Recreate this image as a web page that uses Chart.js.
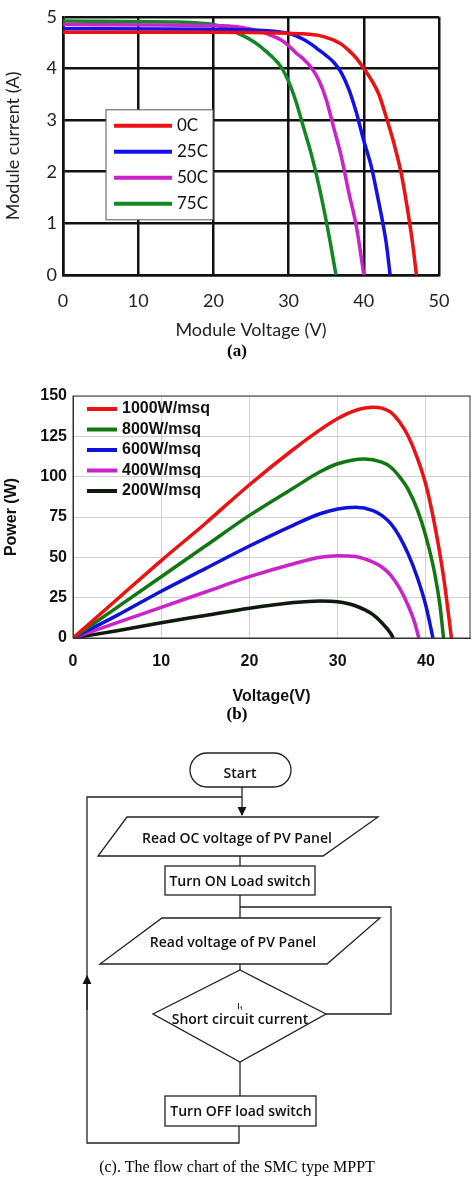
<!DOCTYPE html>
<html>
<head>
<meta charset="utf-8">
<script src="https://cdn.jsdelivr.net/npm/chart.js@4.4.1/dist/chart.umd.min.js"></script>
<style>
  html, body { margin: 0; padding: 0; background: #fff; }
  body { width: 474px; height: 1192px; position: relative; overflow: hidden; }
  .box { position: absolute; left: 0; width: 474px; }
  .cap { position: absolute; left: 0; width: 474px; text-align: center; font-family: "Liberation Serif", serif; font-size: 17px; color: #000; }
  svg text { font-family: "Open Sans", sans-serif; font-weight: 600; font-size: 14px; fill: #111; }
</style>
</head>
<body>
<div class="box" style="top:0;height:345px"><canvas id="ivChart"></canvas></div>
<div class="cap" style="top:341px;font-weight:bold">(a)</div>
<div class="box" style="top:370px;height:340px"><canvas id="pvChart"></canvas></div>
<div class="cap" style="top:704px;font-weight:bold">(b)</div>

<svg width="474" height="1192" style="position:absolute;left:0;top:0" viewBox="0 0 474 1192">
  <defs>
    <marker id="arr" viewBox="0 0 10 10" refX="9" refY="5" markerWidth="7" markerHeight="7" orient="auto">
      <path d="M0,0 L10,5 L0,10 z" fill="#111"/>
    </marker>
  </defs>
  <g stroke="#222" stroke-width="1.3" fill="none">
    <rect x="190" y="753" width="101" height="34" rx="17"/>
    <line x1="242" y1="787" x2="242" y2="815" marker-end="url(#arr)"/>
    <polyline points="239,1126 239,1143 87,1143 87,797 242,797"/>
    <line x1="87" y1="1010" x2="87" y2="976" marker-end="url(#arr)"/>
    <polygon points="127,817 378,817 323,856 98,856"/>
    <line x1="240" y1="856" x2="240" y2="866"/>
    <rect x="165" y="866" width="150" height="29"/>
    <polyline points="240,895 240,918"/>
    <polyline points="240,907 391,907 391,1014 326,1014"/>
    <polygon points="162,918 380,918 327,964 100,964"/>
    <line x1="240" y1="964" x2="240" y2="970"/>
    <polygon points="240,970 326,1014 240,1062 153,1014"/>
    <line x1="240" y1="1062" x2="240" y2="1096"/>
    <rect x="165" y="1096" width="151" height="30"/>
  </g>
  <text x="240" y="778" text-anchor="middle" font-size="15">Start</text>
  <text x="237" y="843" text-anchor="middle">Read OC voltage of PV Panel</text>
  <text x="240" y="886" text-anchor="middle">Turn ON Load switch</text>
  <text x="233" y="947" text-anchor="middle">Read voltage of PV Panel</text>
  <text x="240" y="1009" text-anchor="middle" style="font-size:8px">I₁</text>
  <text x="240" y="1024" text-anchor="middle">Short circuit current</text>
  <text x="241" y="1116" text-anchor="middle">Turn OFF load switch</text>
</svg>
<div class="cap" style="top:1158px;font-size:16px">(c). The flow chart of the SMC type MPPT</div>

<script>
// (a) I-V curves at different temperatures
const IV_LABELS = ['0C', '25C', '50C', '75C'];
const IV_COLORS = ['#ee1111', '#1111ee', '#cc22cc', '#118822'];
const iv0C  = [[0,4.7],[10,4.7],[20,4.7],[30,4.68],[32,4.67],[34,4.64],[35,4.6],[36,4.55],[37,4.47],[38,4.35],[39,4.2],[40,4.0],[41,3.78],[42,3.5],[43,3.05],[44,2.55],[45,1.95],[46,1.1],[46.5,0.6],[47,0]];
const iv25C = [[0,4.77],[20,4.76],[26,4.74],[28,4.72],[30,4.68],[31,4.63],[32,4.56],[33,4.47],[34,4.36],[35,4.25],[36,4.12],[37,3.92],[38,3.6],[39,3.15],[40,2.6],[41,2.1],[42,1.4],[42.6,0.95],[43,0.6],[43.5,0]];
const iv50C = [[0,4.85],[20,4.83],[22,4.82],[24,4.79],[25,4.76],[26,4.72],[27,4.68],[28,4.62],[29,4.55],[30,4.44],[31,4.3],[32,4.18],[33,4.02],[34,3.78],[35,3.4],[36,2.85],[37,2.3],[38,1.6],[39,0.95],[39.5,0.5],[40,0]];
const iv75C = [[0,4.92],[15,4.9],[17,4.89],[20,4.85],[21,4.81],[22,4.76],[23,4.7],[24,4.63],[25,4.55],[26,4.45],[27,4.33],[28,4.2],[29,4.03],[30,3.75],[31,3.35],[32,2.85],[33,2.35],[34,1.75],[35,1.05],[35.7,0.5],[36.3,0]];
const IV_TICKS_X = [0, 10, 20, 30, 40, 50];
const IV_TICKS_Y = [0, 1, 2, 3, 4, 5];

// (b) P-V curves at different irradiance
const PV_LABELS = ['1000W/msq', '800W/msq', '600W/msq', '400W/msq', '200W/msq'];
const PV_COLORS = ['#ee1111', '#117711', '#1111dd', '#cc22cc', '#0d1a0d'];
const pv1000 = [[0,0],[5,24],[10,48],[15,71],[20,95],[25,117],[28,129],[30,136],[32,141],[34,143],[35,142.5],[36,140],[37,134],[38,125],[39,112],[40,95],[41,70],[42,38],[42.9,0]];
const pv800  = [[0,0],[5,19],[10,38],[15,57],[20,76],[25,93],[28,103],[30,108],[33,111],[35,109],[36,106],[37,100],[38,92],[39,80],[40,63],[41,40],[41.6,20],[42,0]];
const pv600  = [[0,0],[5,14],[10,29],[15,43],[20,57],[25,70],[28,77],[30,80],[32,81],[34,79],[35,76],[36,71],[37,63],[38,52],[39,38],[40,20],[40.8,0]];
const pv400  = [[0,0],[5,9.5],[10,19],[15,28.5],[20,38],[25,46],[28,50],[30,51],[32,50.5],[34,47],[35,44],[36,39],[37,31],[38,20],[38.7,10],[39.2,0]];
const pv200  = [[0,0],[5,4.5],[10,9.5],[15,14],[20,18.5],[25,22],[28,23],[30,22.5],[32,20],[34,14.5],[35,9.5],[36,3],[36.3,0]];

const toXY = arr => arr.map(p => ({ x: p[0], y: p[1] }));

// legend drawn inside the plot area
const insideLegend = (cfg) => ({
  id: 'insideLegend',
  afterDraw(chart) {
    const ctx = chart.ctx;
    const a = chart.chartArea;
    const x0 = a.left + cfg.dx, y0 = a.top + cfg.dy;
    ctx.save();
    if (cfg.box) {
      ctx.fillStyle = '#fff';
      ctx.strokeStyle = '#555';
      ctx.lineWidth = 1;
      ctx.fillRect(x0, y0, cfg.box.w, cfg.box.h);
      ctx.strokeRect(x0, y0, cfg.box.w, cfg.box.h);
    }
    ctx.font = cfg.font;
    ctx.textBaseline = 'middle';
    chart.data.datasets.forEach((ds, i) => {
      const y = y0 + cfg.first + i * cfg.step;
      ctx.strokeStyle = ds.borderColor;
      ctx.lineWidth = 4;
      ctx.beginPath();
      ctx.moveTo(x0 + cfg.lx, y);
      ctx.lineTo(x0 + cfg.lx + cfg.len, y);
      ctx.stroke();
      ctx.fillStyle = '#111';
      ctx.fillText(ds.label, x0 + cfg.lx + cfg.len + 5, y);
    });
    ctx.restore();
  }
});

const makeDatasets = (labels, colors, series) => labels.map((l, i) => ({
  label: l,
  data: toXY(series[i]),
  borderColor: colors[i],
  borderWidth: 3.5,
  pointRadius: 0,
  cubicInterpolationMode: 'monotone',
  fill: false
}));

const main = () => {
  const ivFont = { family: 'Lato', size: 18 };
  new Chart(document.getElementById('ivChart'), {
    type: 'line',
    data: { datasets: makeDatasets(IV_LABELS, IV_COLORS, [iv0C, iv25C, iv50C, iv75C]) },
    options: {
      responsive: true,
      maintainAspectRatio: false,
      animation: false,
      layout: { padding: { top: 12, right: 35 } },
      plugins: { legend: { display: false }, tooltip: { enabled: false } },
      scales: {
        x: {
          type: 'linear', min: 0, max: 50,
          afterBuildTicks: s => { s.ticks = IV_TICKS_X.map(v => ({ value: v })); },
          afterFit: s => { s.height = 70; },
          grid: { color: '#111', lineWidth: 2.5, drawTicks: false },
          border: { color: '#111', width: 2.5 },
          ticks: { color: '#222', font: ivFont, padding: 15, maxRotation: 0 },
          title: { display: true, text: 'Module Voltage (V)', color: '#222', font: ivFont, padding: { top: 0 } }
        },
        y: {
          type: 'linear', min: 0, max: 5,
          afterBuildTicks: s => { s.ticks = IV_TICKS_Y.map(v => ({ value: v })); },
          afterFit: s => { s.width = 63; },
          grid: { color: '#111', lineWidth: 2.5, drawTicks: false },
          border: { color: '#111', width: 2.5 },
          ticks: { color: '#222', font: ivFont, padding: 6 },
          title: { display: true, text: 'Module current (A)', color: '#222', font: ivFont, padding: 2 }
        }
      }
    },
    plugins: [insideLegend({ dx: 43, dy: 93, box: { w: 107, h: 110 }, first: 16, step: 26, lx: 8, len: 58, font: '17px Lato' })]
  });

  const pvFont = { family: 'Liberation Sans', size: 16, weight: 'bold' };
  new Chart(document.getElementById('pvChart'), {
    type: 'line',
    data: { datasets: makeDatasets(PV_LABELS, PV_COLORS, [pv1000, pv800, pv600, pv400, pv200]) },
    options: {
      responsive: true,
      maintainAspectRatio: false,
      animation: false,
      layout: { padding: { top: 26, right: 4 } },
      plugins: { legend: { display: false }, tooltip: { enabled: false } },
      scales: {
        x: {
          type: 'linear', min: 0, max: 45,
          afterBuildTicks: s => { s.ticks = [0, 10, 20, 30, 40].map(v => ({ value: v })); },
          afterFit: s => { s.height = 72; },
          grid: { color: '#d0d0d0', lineWidth: 1, drawTicks: false },
          border: { color: '#333', width: 1 },
          ticks: { color: '#111', font: pvFont, padding: 14, maxRotation: 0 },
          title: { display: true, text: 'Voltage(V)', color: '#111', font: pvFont, padding: { top: 0 } }
        },
        y: {
          type: 'linear', min: 0, max: 150,
          afterBuildTicks: s => { s.ticks = [0, 25, 50, 75, 100, 125, 150].map(v => ({ value: v })); },
          afterFit: s => { s.width = 73; },
          grid: { color: '#d0d0d0', lineWidth: 1, drawTicks: false },
          border: { color: '#333', width: 1 },
          ticks: { color: '#111', font: pvFont, padding: 6 },
          title: { display: true, text: 'Power (W)', color: '#111', font: pvFont, padding: 2 }
        }
      }
    },
    plugins: [
      { id: 'frame', afterDraw(chart) {
          const a = chart.chartArea, ctx = chart.ctx;
          ctx.save(); ctx.strokeStyle = '#333'; ctx.lineWidth = 1;
          ctx.strokeRect(a.left, a.top, a.right - a.left, a.bottom - a.top); ctx.restore();
      } },
      insideLegend({ dx: 12, dy: 4, first: 9, step: 20.5, lx: 2, len: 30, font: 'bold 16px "Liberation Sans"' })
    ]
  });
}

main();
</script>
</body>
</html>
